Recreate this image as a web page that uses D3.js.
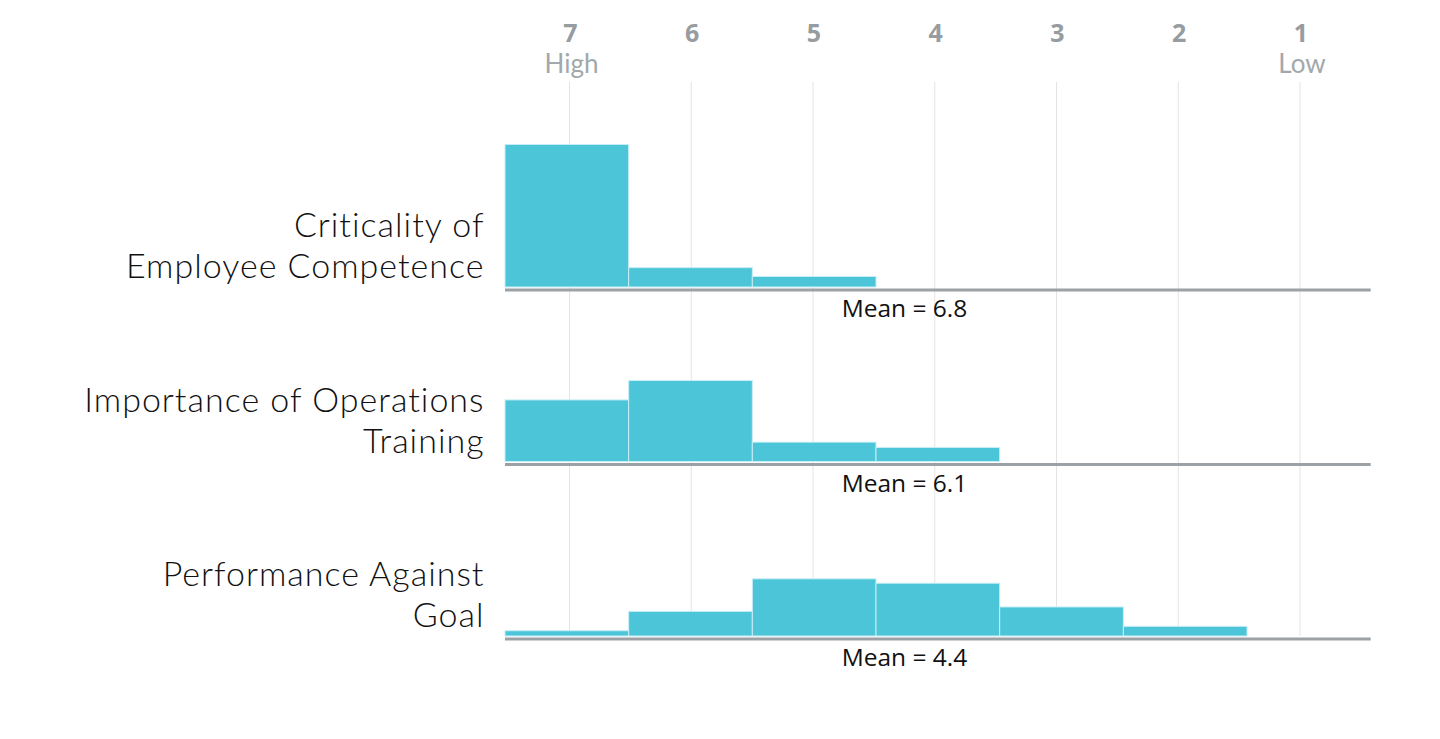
<!DOCTYPE html>
<html>
<head>
<meta charset="utf-8">
<script src="https://cdn.jsdelivr.net/npm/d3@7"></script>
<style>
  html, body { margin: 0; padding: 0; background: #fff; }
  svg { display: block; }
</style>
</head>
<body>
<svg id="chart" width="1440" height="739"></svg>
<script>
// rating scale, high to low
const scores = [7, 6, 5, 4, 3, 2, 1];
const scaleEnds = { 7: "High", 1: "Low" };

// survey items (label lines) and their means
const itemLabels = [
  ["Criticality of", "Employee Competence"],
  ["Importance of Operations", "Training"],
  ["Performance Against", "Goal"]
];
const itemMeans = ["6.8", "6.1", "4.4"];

// share of responses (%) per score, in the order of `scores`
const criticalityPct = [81, 11, 6, 0, 0, 0, 0];
const trainingPct    = [35, 46, 11, 8, 0, 0, 0];
const performancePct = [3, 14, 32.5, 30, 16.5, 5.5, 0];
const itemPct = [criticalityPct, trainingPct, performancePct];

const svg = d3.select("#chart");

const barColor = "#4cc5d9";
const gridColor = "#e4e4e4";
const baseColor = "#9ba1a5";
const headColor = "#969ca0";

// bins for the bars, points for the grid/header
const xBin = d3.scaleBand().domain(scores).range([505, 1370.7]).padding(0);
const xTick = d3.scalePoint().domain(scores).range([569.5, 1300]);

const panelBase = [290, 464.5, 639];   // baseline y of each panel
const h = d3.scaleLinear().domain([0, 100]).range([0, 176]);

// grid lines
svg.append("g")
  .selectAll("line")
  .data(scores)
  .join("line")
  .attr("x1", d => xTick(d))
  .attr("x2", d => xTick(d))
  .attr("y1", 82)
  .attr("y2", 636)
  .attr("stroke", gridColor)
  .attr("stroke-width", 1);

// header: score numbers
svg.append("g")
  .selectAll("text")
  .data(scores)
  .join("text")
  .attr("x", d => xTick(d) + 1)
  .attr("y", 42)
  .attr("text-anchor", "middle")
  .attr("fill", headColor)
  .style("font-family", "'Open Sans', Lato, sans-serif")
  .style("font-weight", 700)
  .style("font-size", "25px")
  .text(d => d);

// header: High / Low
svg.append("g")
  .selectAll("text")
  .data(scores.filter(d => scaleEnds[d]))
  .join("text")
  .attr("x", d => xTick(d) + 2)
  .attr("y", 73)
  .attr("text-anchor", "middle")
  .attr("fill", "#a2a8ab")
  .style("font-family", "Lato, 'Open Sans', sans-serif")
  .style("font-weight", 400)
  .style("font-size", "26px")
  .text(d => scaleEnds[d]);

itemPct.forEach((vals, i) => {
  const base = panelBase[i];
  const g = svg.append("g");
  const rows = scores.map((s, j) => ({ score: s, pct: vals[j] })).filter(d => d.pct > 0);

  // bars
  g.selectAll("rect")
    .data(rows)
    .join("rect")
    .attr("x", d => xBin(d.score))
    .attr("width", xBin.bandwidth())
    .attr("y", d => base - 3 - h(d.pct))
    .attr("height", d => h(d.pct))
    .attr("fill", barColor)
    .attr("stroke", "#c9eef4")
    .attr("stroke-width", 1);

  // baseline
  g.append("line")
    .attr("x1", xBin.range()[0])
    .attr("x2", xBin.range()[1])
    .attr("y1", base)
    .attr("y2", base)
    .attr("stroke", baseColor)
    .attr("stroke-width", 3);

  // mean label
  g.append("text")
    .attr("x", 904.5)
    .attr("y", base + 27)
    .attr("text-anchor", "middle")
    .attr("fill", "#111")
    .style("font-family", "'Open Sans', sans-serif")
    .style("font-size", "24.5px")
    .text(`Mean = ${itemMeans[i]}`);

  // item label, right aligned (x nudged for trailing letter-spacing)
  g.append("g")
    .selectAll("text")
    .data(itemLabels[i])
    .join("text")
    .attr("x", 484.5)
    .attr("y", (d, k) => base - 53 + k * 41)
    .attr("text-anchor", "end")
    .attr("fill", "#111")
    .style("font-family", "Lato, sans-serif")
    .style("font-weight", 300)
    .style("font-size", "34px")
    .style("letter-spacing", "1px")
    .text(d => d);
});
</script>
</body>
</html>
